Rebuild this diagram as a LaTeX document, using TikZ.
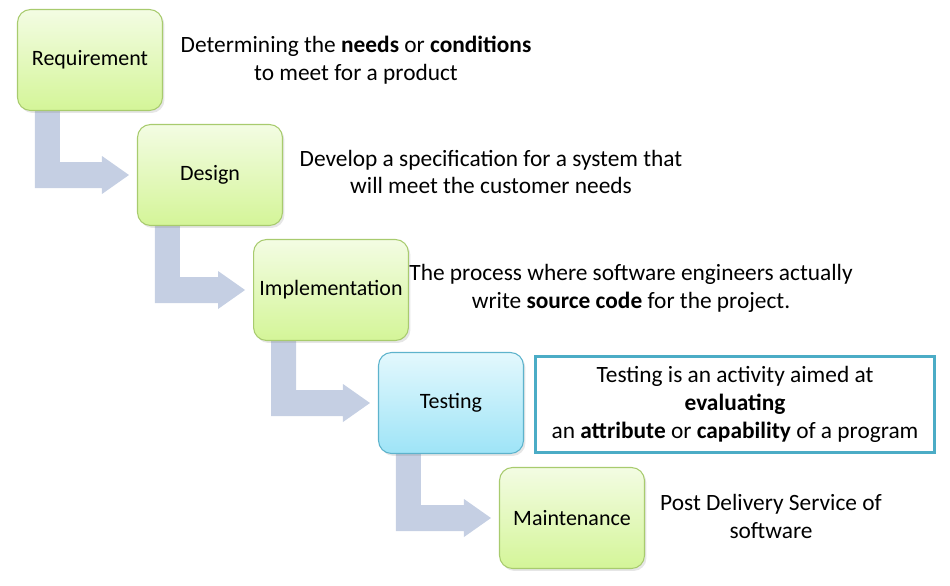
\documentclass[tikz,border=0pt]{standalone}
\usepackage{fontspec}
\setmainfont{Carlito}
\usetikzlibrary{calc,shadows,backgrounds}

\definecolor{greenedge}{HTML}{A8CB6E}
\definecolor{greentop}{HTML}{F3FCE3}
\definecolor{greenbot}{HTML}{D4F598}
\definecolor{blueedge}{HTML}{5DB3CC}
\definecolor{bluetop}{HTML}{E3F8FD}
\definecolor{bluebot}{HTML}{9EE4F7}
\definecolor{flowblue}{HTML}{C5CFE3}
\definecolor{tealedge}{HTML}{4BACC6}

\begin{document}
\begin{tikzpicture}[x=0.02cm, y=-0.02cm,
  stage/.style={rectangle, rounded corners=0.26cm, draw=greenedge, line width=0.6pt,
    minimum width=2.9cm, minimum height=2.02cm, top color=greentop, bottom color=greenbot,
    drop shadow={opacity=0.2, shadow xshift=0.04cm, shadow yshift=-0.05cm},
    font=\fontsize{12.5}{15}\selectfont},
  note/.style={align=center, font=\fontsize{13.3}{15.9}\selectfont},
  flow/.style={fill=flowblue}
]
  \useasboundingbox (0,0) rectangle (950,585);

  % phases
  \node[stage] (req) at (90,60) {Requirement};
  \node[stage] (des) at (210,175) {Design};
  \node[stage] (imp) at (331,290) {Implementation};
  \node[stage, draw=blueedge, top color=bluetop, bottom color=bluebot] (tes) at (451,403) {Testing};
  \node[stage] (mnt) at (572,518) {Maintenance};

  % descriptions
  \node[note] (reqtxt) at (356,60) {Determining the \textbf{needs} or \textbf{conditions}\\to meet for a product};
  \node[note] (destxt) at (491,172) {Develop a specification for a system that\\will meet the customer needs};
  \node[note] (imptxt) at (631,288) {The process where software engineers actually\\write \textbf{source code} for the project.};
  \node[note, draw=tealedge, line width=0.06cm, minimum width=8cm, minimum height=1.94cm] (testxt) at (735,404.5)
    {Testing is an activity aimed at\\\textbf{evaluating}\\an \textbf{attribute} or \textbf{capability} of a program};
  \node[note] (mnttxt) at (771,516) {Post Delivery Service of\\software};

  % flow arrows
  \begin{scope}[on background layer]
    \foreach \a/\b in {req/des, des/imp, imp/tes, tes/mnt}{
      \coordinate (l) at ($(\a.south west)+(18,0)$);
      \coordinate (r) at ($(\a.south west)+(43,0)$);
      \coordinate (hi) at ($(\b.west)+(0,-13)$);
      \coordinate (lo) at ($(\b.west)+(0,13)$);
      \fill[flow] (l) -- (l |- lo) -- ($(\b.west)+(-35,13)$) -- ($(\b.west)+(-35,19)$)
        -- ($(\b.west)+(-8,0)$) -- ($(\b.west)+(-35,-19)$) -- ($(\b.west)+(-35,-13)$)
        -- (r |- hi) -- (r) -- cycle;
    }
  \end{scope}
\end{tikzpicture}
\end{document}
